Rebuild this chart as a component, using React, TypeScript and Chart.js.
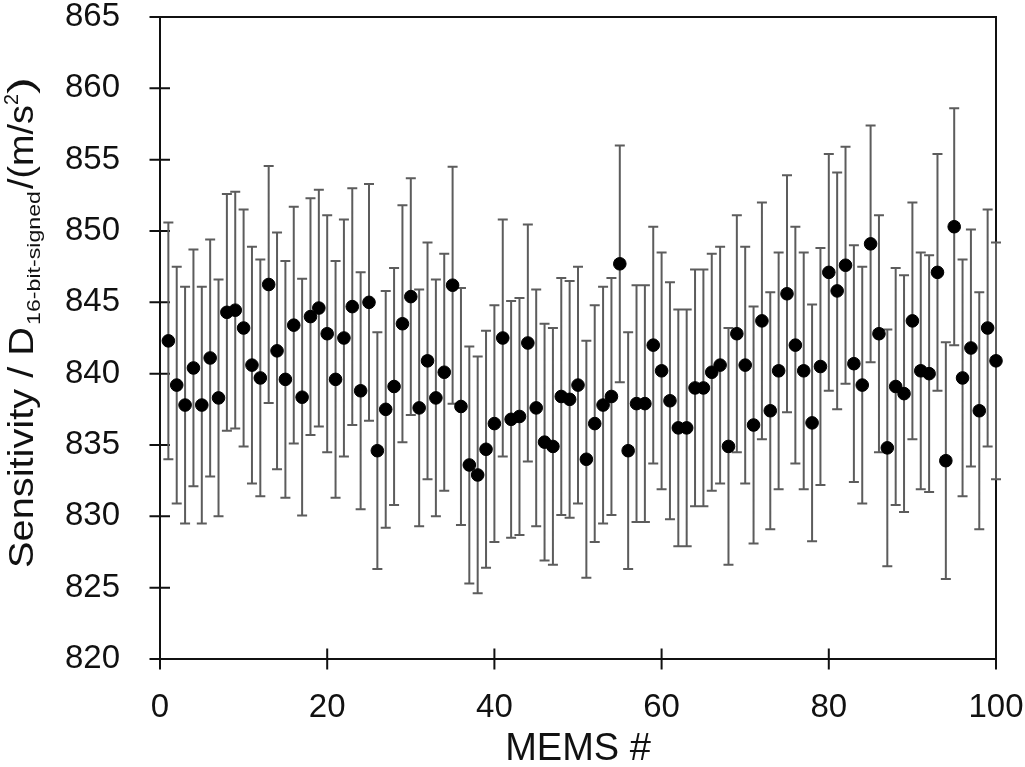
import React, { useEffect, useRef } from "react";
import { Chart, registerables } from "chart.js";

Chart.register(...registerables);

const memsIds: number[] = Array.from({ length: 100 }, (_, i) => i + 1);

const sensitivity: number[] = [
  842.3, 839.2, 837.8, 840.4, 837.8, 841.1, 838.3, 844.3, 844.45, 843.2,
  840.6, 839.7, 846.25, 841.6, 839.6, 843.4, 838.35, 844.0, 844.6, 842.8,
  839.6, 842.5, 844.7, 838.8, 845.0, 834.6, 837.5, 839.1, 843.5, 845.4,
  837.6, 840.9, 838.3, 840.1, 846.2, 837.7, 833.6, 832.9, 834.7, 836.5,
  842.5, 836.8, 837.0, 842.15, 837.6, 835.2, 834.9, 838.4, 838.2, 839.2,
  834.0, 836.5, 837.8, 838.4, 847.7, 834.6, 837.9, 837.9, 842.0, 840.2,
  838.1, 836.2, 836.2, 839.0, 839.0, 840.1, 840.6, 834.9, 842.8, 840.6,
  836.4, 843.7, 837.4, 840.2, 845.6, 842.0, 840.2, 836.55, 840.5, 847.1,
  845.8, 847.6, 840.7, 839.2, 849.1, 842.8, 834.8, 839.1, 838.6, 843.7,
  840.2, 840.0, 847.1, 833.9, 850.3, 839.7, 841.8, 837.4, 843.2, 840.9,
];

const errorHalf: number[] = [
  8.3, 8.3, 8.3, 8.3, 8.3, 8.3, 8.3, 8.3, 8.3, 8.3,
  8.3, 8.3, 8.3, 8.3, 8.3, 8.3, 8.3, 8.3, 8.3, 8.3,
  8.3, 8.3, 8.3, 8.3, 8.3, 8.3, 8.3, 8.3, 8.3, 8.3,
  8.3, 8.3, 8.3, 8.3, 8.3, 8.3, 8.3, 8.3, 8.3, 8.3,
  8.3, 8.3, 8.3, 8.3, 8.3, 8.3, 8.3, 8.3, 8.3, 8.3,
  8.3, 8.3, 8.3, 8.3, 8.3, 8.3, 8.3, 8.3, 8.3, 8.3,
  8.3, 8.3, 8.3, 8.3, 8.3, 8.3, 8.3, 8.3, 8.3, 8.3,
  8.3, 8.3, 8.3, 8.3, 8.3, 8.3, 8.3, 8.3, 8.3, 8.3,
  8.3, 8.3, 8.3, 8.3, 8.3, 8.3, 8.3, 8.3, 8.3, 8.3,
  8.3, 8.3, 8.3, 8.3, 8.3, 8.3, 8.3, 8.3, 8.3, 8.3,
];

const xTicks: number[] = [0, 20, 40, 60, 80, 100];
const yTicks: number[] = [820, 825, 830, 835, 840, 845, 850, 855, 860, 865];

const xTitle = "MEMS #";
const yTitleParts: string[] = ["Sensitivity / D", "16-bit-signed", "/(m/s", "2", ")"];

const FONT = "'Liberation Sans', Arial, sans-serif";

const framePlugin = {
  id: "frameAndErrors",
  beforeDatasetsDraw(chart: any) {
    const { ctx, chartArea, scales } = chart;
    const x = scales.x;
    const y = scales.y;
    ctx.save();
    ctx.strokeStyle = "#111";
    ctx.lineWidth = 2;
    ctx.strokeRect(chartArea.left, chartArea.top, chartArea.right - chartArea.left, chartArea.bottom - chartArea.top);
    ctx.beginPath();
    for (const v of yTicks) {
      const py = y.getPixelForValue(v);
      ctx.moveTo(chartArea.left - 10.5, py);
      ctx.lineTo(chartArea.left + 10, py);
    }
    for (const v of xTicks) {
      const px = x.getPixelForValue(v);
      ctx.moveTo(px, chartArea.bottom - 10.5);
      ctx.lineTo(px, chartArea.bottom + 10.5);
    }
    ctx.stroke();
    ctx.strokeStyle = "#5c5c5c";
    ctx.lineWidth = 2;
    ctx.beginPath();
    for (let i = 0; i < memsIds.length; i++) {
      const px = x.getPixelForValue(memsIds[i]);
      const top = y.getPixelForValue(sensitivity[i] + errorHalf[i]);
      const bot = y.getPixelForValue(sensitivity[i] - errorHalf[i]);
      ctx.moveTo(px, top);
      ctx.lineTo(px, bot);
      ctx.moveTo(px - 5, top);
      ctx.lineTo(px + 5, top);
      ctx.moveTo(px - 5, bot);
      ctx.lineTo(px + 5, bot);
    }
    ctx.stroke();
    ctx.restore();
  },
  afterDraw(chart: any) {
    const { ctx } = chart;
    ctx.save();
    ctx.translate(33, 568);
    ctx.rotate(-Math.PI / 2);
    ctx.fillStyle = "#111";
    ctx.textAlign = "left";
    ctx.textBaseline = "alphabetic";
    const segs = [
      { size: 35, dy: 0, start: 0, len: 241 },
      { size: 19, dy: 7, start: 243, len: 134 },
      { size: 35, dy: 0, start: 379, len: 84 },
      { size: 20, dy: -15, start: 463, len: 11 },
      { size: 35, dy: 0, start: 474, len: 17 },
    ];
    segs.forEach((s, i) => {
      const text = yTitleParts[i];
      ctx.font = `${s.size}px ${FONT}`;
      const w = ctx.measureText(text).width;
      ctx.save();
      ctx.translate(s.start, s.dy);
      ctx.scale(s.len / w, 1);
      ctx.fillText(text, 0, 0);
      ctx.restore();
    });
    ctx.restore();
  },
};

export default function App() {
  const canvasRef = useRef<HTMLCanvasElement | null>(null);

  useEffect(() => {
    const canvas = canvasRef.current;
    if (!canvas) return;
    const chart = new Chart(canvas, {
      type: "scatter",
      data: {
        datasets: [
          {
            label: "Sensitivity",
            data: memsIds.map((m, i) => ({ x: m, y: sensitivity[i] })),
            backgroundColor: "#000",
            borderColor: "#000",
            borderWidth: 1,
            pointRadius: 6.3,
            pointHoverRadius: 6.3,
            clip: false as any,
          },
        ],
      },
      options: {
        animation: false,
        responsive: false,
        devicePixelRatio: 1,
        events: [],
        layout: { padding: { left: 0, right: 29, top: 17, bottom: 0 } },
        plugins: {
          legend: { display: false },
          tooltip: { enabled: false },
          title: { display: false },
        },
        scales: {
          x: {
            type: "linear",
            min: 0,
            max: 100,
            afterBuildTicks: (scale: any) => {
              scale.ticks = xTicks.map((v) => ({ value: v }));
            },
            afterFit: (scale: any) => {
              scale.height = 108;
              scale.paddingLeft = 0;
              scale.paddingRight = 0;
              scale.paddingTop = 0;
              scale.paddingBottom = 0;
            },
            grid: { display: false },
            border: { display: false },
            ticks: {
              color: "#111",
              padding: 21,
              maxRotation: 0,
              font: { family: FONT, size: 33 },
            },
            title: {
              display: true,
              text: xTitle,
              color: "#111",
              font: { family: FONT, size: 38, lineHeight: 1 },
              padding: { top: 0, bottom: -2 },
            },
          },
          y: {
            type: "linear",
            min: 820,
            max: 865,
            afterBuildTicks: (scale: any) => {
              scale.ticks = yTicks.map((v) => ({ value: v }));
            },
            afterFit: (scale: any) => {
              scale.width = 160;
              scale.paddingLeft = 0;
              scale.paddingRight = 0;
              scale.paddingTop = 0;
              scale.paddingBottom = 0;
            },
            grid: { display: false },
            border: { display: false },
            ticks: {
              color: "#111",
              padding: 32,
              font: { family: FONT, size: 33 },
            },
          },
        },
      },
      plugins: [framePlugin],
    });
    return () => chart.destroy();
  }, []);

  return (
    <div style={{ position: "fixed", left: 0, top: 0, width: 1025, height: 767, background: "#fff" }}>
      <canvas ref={canvasRef} width={1025} height={767} style={{ width: 1025, height: 767, display: "block" }} />
    </div>
  );
}
